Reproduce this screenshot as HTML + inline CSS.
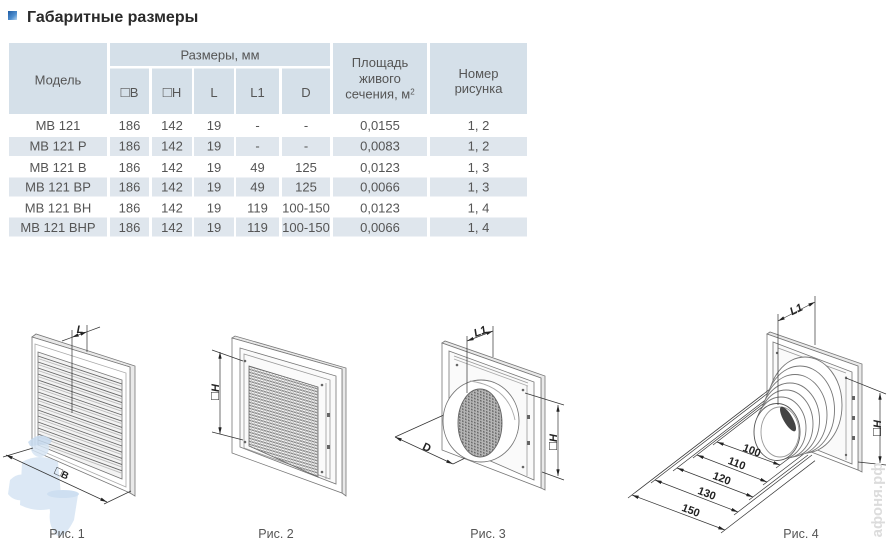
<!DOCTYPE html>
<html><head><meta charset="utf-8"><style>
html,body{margin:0;padding:0;background:#fff;}
svg{display:block;}
</style></head><body>
<svg width="896" height="555" viewBox="0 0 896 555" xmlns="http://www.w3.org/2000/svg" font-family="Liberation Sans, DejaVu Sans, sans-serif">
<defs>
<linearGradient id="ic" x1="0" y1="0" x2="1" y2="1"><stop offset="0" stop-color="#1d5aa3"/><stop offset="0.6" stop-color="#4f8fcf"/><stop offset="1" stop-color="#b8d6f0"/></linearGradient>
<marker id="ar" viewBox="0 0 8 4" refX="8" refY="2" markerWidth="7" markerHeight="3.4" markerUnits="userSpaceOnUse" orient="auto-start-reverse"><path d="M0,0L8,2L0,4z" fill="#222"/></marker>
<pattern id="mesh" width="3" height="3" patternUnits="userSpaceOnUse" patternTransform="skewY(16)"><rect width="3" height="3" fill="#f2f2f2"/><rect width="2.1" height="1.5" fill="#8c8c8c"/><rect x="2.2" width="0.8" height="3" fill="#bdbdbd"/></pattern>
<pattern id="mesh2" width="3" height="3" patternUnits="userSpaceOnUse" patternTransform="skewY(20)"><rect width="3" height="3" fill="#b5b5b5"/><rect width="1.6" height="1.6" fill="#6a6a6a"/></pattern>
</defs>

<!-- Title -->
<rect x="8" y="11" width="9" height="9" fill="url(#ic)"/>
<text x="27" y="22" font-size="16" font-weight="bold" fill="#2a2a2a">Габаритные размеры</text>

<!-- Table header -->
<g fill="#d5e0e9">
<rect x="9" y="43" width="98" height="71"/>
<rect x="110" y="43" width="220" height="23"/>
<rect x="110" y="68.5" width="39" height="45.5"/>
<rect x="152" y="68.5" width="40" height="45.5"/>
<rect x="194" y="68.5" width="40" height="45.5"/>
<rect x="236" y="68.5" width="43" height="45.5"/>
<rect x="282" y="68.5" width="48" height="45.5"/>
<rect x="333" y="43" width="94" height="71"/>
<rect x="430" y="43" width="97" height="71"/>
</g>
<!-- shaded rows -->
<g fill="#dfe6ed">
<rect x="9" y="137" width="98" height="19"/><rect x="110" y="137" width="39" height="19"/><rect x="152" y="137" width="40" height="19"/><rect x="194" y="137" width="40" height="19"/><rect x="236" y="137" width="43" height="19"/><rect x="282" y="137" width="48" height="19"/><rect x="333" y="137" width="94" height="19"/><rect x="430" y="137" width="97" height="19"/>
<rect x="9" y="177.5" width="98" height="19"/><rect x="110" y="177.5" width="39" height="19"/><rect x="152" y="177.5" width="40" height="19"/><rect x="194" y="177.5" width="40" height="19"/><rect x="236" y="177.5" width="43" height="19"/><rect x="282" y="177.5" width="48" height="19"/><rect x="333" y="177.5" width="94" height="19"/><rect x="430" y="177.5" width="97" height="19"/>
<rect x="9" y="217.5" width="98" height="19"/><rect x="110" y="217.5" width="39" height="19"/><rect x="152" y="217.5" width="40" height="19"/><rect x="194" y="217.5" width="40" height="19"/><rect x="236" y="217.5" width="43" height="19"/><rect x="282" y="217.5" width="48" height="19"/><rect x="333" y="217.5" width="94" height="19"/><rect x="430" y="217.5" width="97" height="19"/>
</g>

<g font-size="13" fill="#555" text-anchor="middle">
<text x="58" y="84.5">Модель</text>
<text x="220" y="59.5">Размеры, мм</text>
<text x="129.5" y="97"><tspan font-size="15">□</tspan>B</text>
<text x="172" y="97"><tspan font-size="15">□</tspan>H</text>
<text x="214" y="97">L</text>
<text x="257.5" y="97">L1</text>
<text x="306" y="97">D</text>
<text x="380" y="67">Площадь</text>
<text x="380" y="83">живого</text>
<text x="380" y="98.5">сечения, м<tspan font-size="8" dy="-4">2</tspan></text>
<text x="478.5" y="78">Номер</text>
<text x="478.5" y="93">рисунка</text>

<text x="58" y="130">MB 121</text><text x="129.5" y="130">186</text><text x="172" y="130">142</text><text x="214" y="130">19</text><text x="257.5" y="130">-</text><text x="306" y="130">-</text><text x="380" y="130">0,0155</text><text x="478.5" y="130">1, 2</text>
<text x="58" y="150.5">MB 121 P</text><text x="129.5" y="150.5">186</text><text x="172" y="150.5">142</text><text x="214" y="150.5">19</text><text x="257.5" y="150.5">-</text><text x="306" y="150.5">-</text><text x="380" y="150.5">0,0083</text><text x="478.5" y="150.5">1, 2</text>
<text x="58" y="172">MB 121 B</text><text x="129.5" y="172">186</text><text x="172" y="172">142</text><text x="214" y="172">19</text><text x="257.5" y="172">49</text><text x="306" y="172">125</text><text x="380" y="172">0,0123</text><text x="478.5" y="172">1, 3</text>
<text x="58" y="191.5">MB 121 BP</text><text x="129.5" y="191.5">186</text><text x="172" y="191.5">142</text><text x="214" y="191.5">19</text><text x="257.5" y="191.5">49</text><text x="306" y="191.5">125</text><text x="380" y="191.5">0,0066</text><text x="478.5" y="191.5">1, 3</text>
<text x="58" y="212.5">MB 121 BH</text><text x="129.5" y="212.5">186</text><text x="172" y="212.5">142</text><text x="214" y="212.5">19</text><text x="257.5" y="212.5">119</text><text x="306" y="212.5">100-150</text><text x="380" y="212.5">0,0123</text><text x="478.5" y="212.5">1, 4</text>
<text x="58" y="232">MB 121 BHP</text><text x="129.5" y="232">186</text><text x="172" y="232">142</text><text x="214" y="232">19</text><text x="257.5" y="232">119</text><text x="306" y="232">100-150</text><text x="380" y="232">0,0066</text><text x="478.5" y="232">1, 4</text>
</g>

<!-- ================= FIG 1 ================= -->
<g stroke="#777" stroke-width="0.8" fill="none">
<polygon points="32,337 36,334 135,366 135,496 130,493 130,367" fill="#e9e9e9"/>
<polygon points="32,337 130,367 130,493 32,450" fill="#fff"/>
<polygon points="35,344 126,373 126,487 35,448" stroke="#aaa"/>
<polygon points="38,352 122,380 122,479 38,445" fill="#f3f3f3"/>
</g>
<g stroke-width="0.9" fill="none">
<g stroke="#666">
<line x1="38" y1="356" x2="122" y2="384"/><line x1="38" y1="362" x2="122" y2="390.2"/><line x1="38" y1="368" x2="122" y2="396.4"/><line x1="38" y1="374" x2="122" y2="402.6"/><line x1="38" y1="380" x2="122" y2="408.8"/><line x1="38" y1="386" x2="122" y2="415"/><line x1="38" y1="392" x2="122" y2="421.2"/><line x1="38" y1="398" x2="122" y2="427.4"/><line x1="38" y1="404" x2="122" y2="433.6"/><line x1="38" y1="410" x2="122" y2="439.8"/><line x1="38" y1="416" x2="122" y2="446"/><line x1="38" y1="422" x2="122" y2="452.2"/><line x1="38" y1="428" x2="122" y2="458.4"/><line x1="38" y1="434" x2="122" y2="464.6"/><line x1="38" y1="440" x2="122" y2="470.8"/>
</g>
<g stroke="#bbb">
<line x1="38" y1="358.5" x2="122" y2="386.5"/><line x1="38" y1="364.5" x2="122" y2="392.7"/><line x1="38" y1="370.5" x2="122" y2="398.9"/><line x1="38" y1="376.5" x2="122" y2="405.1"/><line x1="38" y1="382.5" x2="122" y2="411.3"/><line x1="38" y1="388.5" x2="122" y2="417.5"/><line x1="38" y1="394.5" x2="122" y2="423.7"/><line x1="38" y1="400.5" x2="122" y2="429.9"/><line x1="38" y1="406.5" x2="122" y2="436.1"/><line x1="38" y1="412.5" x2="122" y2="442.3"/><line x1="38" y1="418.5" x2="122" y2="448.5"/><line x1="38" y1="424.5" x2="122" y2="454.7"/><line x1="38" y1="430.5" x2="122" y2="460.9"/><line x1="38" y1="436.5" x2="122" y2="467.1"/><line x1="38" y1="442.5" x2="122" y2="473.3"/>
</g>
</g>
<!-- mascot watermark -->
<g fill="#d6e5f4" opacity="0.85">
<circle cx="40" cy="448" r="9"/>
<path d="M28,442 Q40,430 52,440 L50,444 L30,446 Z" fill="#c6daef"/>
<path d="M22,462 Q40,452 58,462 L62,505 Q40,515 20,505 Z"/>
<path d="M10,480 Q20,470 30,478 L26,500 Q14,502 8,494 Z"/>
<path d="M48,495 L78,495 L74,520 Q64,540 56,535 Q48,525 50,512 Z"/>
<ellipse cx="63" cy="494" rx="16" ry="4" fill="#c6daef"/>
</g>
<g stroke="#333" stroke-width="0.7" fill="none">
<line x1="72" y1="330" x2="72" y2="413"/>
<line x1="87" y1="325" x2="87" y2="352"/>
<line x1="62" y1="341" x2="72" y2="337.3"/>
<line x1="87" y1="331.8" x2="100" y2="327"/>
<line x1="72" y1="337.3" x2="87" y2="331.8" marker-start="url(#ar)" marker-end="url(#ar)"/>
<line x1="33" y1="448" x2="3" y2="457"/>
<line x1="131" y1="491" x2="104" y2="504"/>
<line x1="6" y1="455" x2="107" y2="502" marker-start="url(#ar)" marker-end="url(#ar)"/>
</g>
<text x="80" y="333" font-size="11" font-weight="bold" font-style="italic" fill="#222" text-anchor="middle">L</text>
<text x="62" y="477" font-size="10" font-weight="bold" fill="#222" text-anchor="middle" transform="rotate(25 62 473)"><tspan font-size="12">□</tspan>B</text>
<text x="67" y="538" font-size="12.5" fill="#555" text-anchor="middle">Рис. 1</text>

<!-- ================= FIG 2 ================= -->
<g stroke="#777" stroke-width="0.8" fill="none">
<polygon points="232,338 235,336 346,368 346,496 342,493 342,369" fill="#e9e9e9"/>
<polygon points="232,338 342,369 342,493 232,453" fill="#fff"/>
<polygon points="240,348 336,376 336,484 240,447" fill="#fafafa"/>
<polygon points="244,354 330,380 330,479 244,448" stroke="#999"/>
<polygon points="249,366 318,387 318,477 249,446" fill="url(#mesh)" stroke="#666"/>
<line x1="326" y1="383" x2="326" y2="479" stroke="#999"/>
</g>
<g fill="#666">
<circle cx="245" cy="361" r="1.3"/><circle cx="245" cy="442" r="1.3"/><circle cx="322" cy="385" r="1.3"/><circle cx="322" cy="472" r="1.3"/>
<rect x="327" y="413" width="3" height="4"/><rect x="327" y="445" width="3" height="4"/>
</g>
<g stroke="#333" stroke-width="0.7" fill="none">
<line x1="212" y1="350" x2="243" y2="361"/>
<line x1="212" y1="432" x2="243" y2="440"/>
<line x1="220" y1="352" x2="220" y2="434" marker-start="url(#ar)" marker-end="url(#ar)"/>
</g>
<text x="215" y="396" font-size="11" font-weight="bold" font-style="italic" fill="#222" text-anchor="middle" transform="rotate(-90 215 392)"><tspan font-size="13">□</tspan>H</text>
<text x="276" y="538" font-size="12.5" fill="#555" text-anchor="middle">Рис. 2</text>

<!-- ================= FIG 3 ================= -->
<g stroke="#777" stroke-width="0.8" fill="none">
<polygon points="442,343 445,341 545,376 545,490 541,488 541,378" fill="#e9e9e9"/>
<polygon points="442,343 541,378 541,488 442,450" fill="#fff"/>
<polygon points="449,351 534,382 534,480 449,443" fill="#fafafa"/>
<line x1="454" y1="356" x2="528" y2="383" stroke="#999"/>
<line x1="454" y1="359" x2="528" y2="386" stroke="#aaa"/>
<line x1="527" y1="386" x2="527" y2="476" stroke="#999"/>
</g>
<g fill="#666">
<circle cx="457" cy="365" r="1.3"/><circle cx="523" cy="390" r="1.3"/><circle cx="523" cy="467" r="1.3"/>
<rect x="527" y="415" width="3" height="4"/><rect x="527" y="441" width="3" height="4"/>
</g>
<g stroke="#333" stroke-width="0.7" fill="none">
<line x1="395" y1="437" x2="446" y2="414"/>
<line x1="453" y1="464" x2="518" y2="432"/>
</g>
<g stroke="#777" stroke-width="0.9">
<ellipse cx="481" cy="421" rx="38" ry="41" fill="#fff"/>
<ellipse cx="480" cy="423" rx="22" ry="34" fill="url(#mesh2)" stroke="#666"/>
<path d="M470,381 Q508,386 515,420" fill="none" stroke="#aaa"/>
</g>
<g stroke="#333" stroke-width="0.7" fill="none">
<line x1="467" y1="336" x2="467" y2="393"/>
<line x1="493" y1="326" x2="493" y2="357"/>
<line x1="467" y1="341" x2="493" y2="331" marker-start="url(#ar)" marker-end="url(#ar)"/>
<line x1="395" y1="437" x2="453" y2="464" marker-start="url(#ar)" marker-end="url(#ar)"/>
<line x1="525" y1="393" x2="564" y2="405"/>
<line x1="542" y1="472" x2="564" y2="480"/>
<line x1="558" y1="405" x2="558" y2="476" marker-start="url(#ar)" marker-end="url(#ar)"/>
</g>
<text x="480" y="335" font-size="11" font-weight="bold" font-style="italic" fill="#222" text-anchor="middle" transform="rotate(-20 480 331)">L1</text>
<text x="427" y="451" font-size="11" font-weight="bold" fill="#222" text-anchor="middle" transform="rotate(25 427 447)">D</text>
<text x="553" y="446" font-size="11" font-weight="bold" font-style="italic" fill="#222" text-anchor="middle" transform="rotate(-90 553 442)"><tspan font-size="13">□</tspan>H</text>
<text x="488" y="538" font-size="12.5" fill="#555" text-anchor="middle">Рис. 3</text>

<!-- ================= FIG 4 ================= -->
<g stroke="#777" stroke-width="0.8" fill="none">
<polygon points="767,334 770,332 862,364 862,472 858,470 858,366" fill="#e9e9e9"/>
<polygon points="767,334 858,366 858,470 767,435" fill="#fff"/>
<polygon points="773,342 852,372 852,464 773,432" fill="#fafafa"/>
<line x1="778" y1="348" x2="846" y2="373" stroke="#999"/>
<line x1="846" y1="376" x2="846" y2="460" stroke="#999"/>
</g>
<g fill="#666">
<circle cx="777" cy="353" r="1.2"/><circle cx="846" cy="378" r="1.2"/><circle cx="846" cy="455" r="1.2"/>
<rect x="852" y="396" width="3" height="4"/><rect x="852" y="416" width="3" height="4"/><rect x="852" y="436" width="3" height="4"/>
</g>
<!-- extension & dimension lines -->
<g stroke="#333" stroke-width="0.7" fill="none">
<line x1="628" y1="498" x2="770" y2="389"/>
<line x1="651" y1="483" x2="770" y2="391.5"/>
<line x1="673" y1="471" x2="770" y2="396.4"/>
<line x1="693" y1="458" x2="772" y2="397"/>
<line x1="713" y1="445" x2="775" y2="397"/>
<line x1="721" y1="533" x2="815" y2="460.7"/>
<line x1="734" y1="515" x2="812" y2="455"/>
<line x1="749" y1="500" x2="808" y2="455"/>
<line x1="763" y1="485" x2="805" y2="453"/>
<line x1="776" y1="468" x2="800" y2="450"/>
<line x1="632" y1="495" x2="725" y2="530" marker-start="url(#ar)" marker-end="url(#ar)"/>
<line x1="655" y1="480" x2="738" y2="512" marker-start="url(#ar)" marker-end="url(#ar)"/>
<line x1="677" y1="468" x2="753" y2="497" marker-start="url(#ar)" marker-end="url(#ar)"/>
<line x1="697" y1="455" x2="767" y2="482" marker-start="url(#ar)" marker-end="url(#ar)"/>
<line x1="717" y1="442" x2="780" y2="465" marker-start="url(#ar)" marker-end="url(#ar)"/>
</g>
<!-- stepped rings -->
<g stroke="#777" stroke-width="0.9" fill="#fff">
<ellipse cx="805" cy="405" rx="37" ry="48"/>
<ellipse cx="800" cy="410" rx="34.5" ry="44"/>
<ellipse cx="795" cy="415" rx="32" ry="40.5"/>
<ellipse cx="790" cy="420" rx="29.5" ry="37"/>
<ellipse cx="786" cy="424" rx="27" ry="34"/>
<ellipse cx="781" cy="428" rx="25" ry="31"/>
<ellipse cx="777" cy="432" rx="23" ry="28.5" stroke="#555"/>
<ellipse cx="780" cy="432" rx="19" ry="25" fill="none" stroke="#999"/>
</g>
<ellipse cx="788" cy="419" rx="4.5" ry="14" fill="#444" transform="rotate(-30 788 419)"/>
<g stroke="#333" stroke-width="0.7" fill="none">
<line x1="778" y1="314" x2="778" y2="405"/>
<line x1="815" y1="296" x2="815" y2="345"/>
<line x1="778" y1="321" x2="815" y2="302" marker-start="url(#ar)" marker-end="url(#ar)"/>
<line x1="846" y1="378" x2="886" y2="394"/>
<line x1="858" y1="462" x2="886" y2="465"/>
<line x1="880" y1="393" x2="880" y2="463" marker-start="url(#ar)" marker-end="url(#ar)"/>
</g>
<text x="796" y="313" font-size="11" font-weight="bold" font-style="italic" fill="#222" text-anchor="middle" transform="rotate(-26 796 309)">L1</text>
<text x="877" y="432" font-size="11" font-weight="bold" font-style="italic" fill="#222" text-anchor="middle" transform="rotate(-90 877 428)"><tspan font-size="13">□</tspan>H</text>
<g font-size="11" font-weight="bold" fill="#222" text-anchor="middle">
<text x="752" y="454" transform="rotate(21 752 450)">100</text>
<text x="737" y="467" transform="rotate(21 737 463)">110</text>
<text x="722" y="482" transform="rotate(21 722 478)">120</text>
<text x="707" y="497" transform="rotate(21 707 493)">130</text>
<text x="691" y="514" transform="rotate(21 691 510)">150</text>
</g>
<text x="801" y="538" font-size="12.5" fill="#555" text-anchor="middle">Рис. 4</text>

<!-- watermark -->
<text x="0" y="0" font-size="15" font-weight="bold" fill="#dcdcdc" text-anchor="middle" transform="translate(882 500) rotate(-90)">афоня.рф</text>
</svg>
</body></html>
